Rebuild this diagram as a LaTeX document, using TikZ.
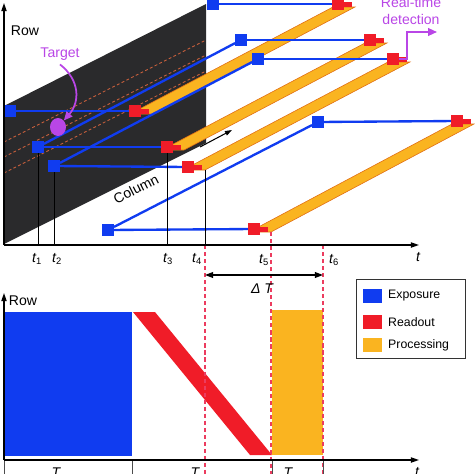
\documentclass[tikz,border=0pt]{standalone}
\usepackage{fontspec}
\setmainfont{Liberation Sans}
\usetikzlibrary{arrows.meta,shapes.geometric,calc}
\definecolor{cblue}{RGB}{16,60,240}
\definecolor{cred}{RGB}{240,28,40}
\definecolor{corange}{RGB}{250,180,32}
\definecolor{cobord}{RGB}{225,110,20}
\definecolor{cdark}{RGB}{42,42,44}
\definecolor{cpurple}{RGB}{185,70,230}
\definecolor{cdash}{RGB}{236,60,95}
\definecolor{cinner}{RGB}{200,95,60}
\pgfdeclarelayer{back}
\pgfdeclarelayer{bars}
\pgfdeclarelayer{lines}
\pgfsetlayers{back,bars,lines,main}
\begin{document}
\begin{tikzpicture}[x=0.03cm,y=-0.03cm, font=\fontsize{12}{14}\selectfont,
  bsq/.style={fill=cblue, minimum size=0.36cm, inner sep=0pt, outer sep=0pt},
  rsq/.style={fill=cred, minimum size=0.36cm, inner sep=0pt, outer sep=0pt},
  bline/.style={draw=cblue, line width=2pt},
  bar/.style={fill=corange, draw=cobord, line width=0.5pt},
  axis/.style={draw=black, line width=1.1pt, -{Triangle[length=7pt,width=4.5pt]}},
  tline/.style={draw=black, line width=0.7pt},
  rdash/.style={draw=cdash, line width=0.9pt, dash pattern=on 3.5pt off 2.5pt},
  innerdash/.style={draw=cinner, line width=0.75pt, dash pattern=on 2.5pt off 2pt},
  tlab/.style={font=\fontsize{12}{14}\selectfont\itshape, inner sep=0pt},
  leg/.style={font=\fontsize{10.5}{12}\selectfont, anchor=west, inner sep=0pt},
  sw/.style={minimum width=0.57cm, minimum height=0.42cm, inner sep=0pt},
  parr/.style={draw=cpurple, line width=1.5pt, -{Triangle[length=7.5pt,width=6.5pt]}},
]
\useasboundingbox (0,0) rectangle (474,474);

% axes reference coordinates
\coordinate (O1) at (4,245);
\coordinate (Y1) at (4,3);
\coordinate (X1) at (419,245);
\coordinate (O2) at (4,460);
\coordinate (Y2) at (4,293);
\coordinate (X2) at (419,460);
\coordinate (bot) at (4,476);

% dark sensor region
\begin{pgfonlayer}{back}
\fill[cdark] (4,106) -- (206,4) -- (206,143) -- (4,244) -- cycle;
\draw[innerdash] (4,142) -- (206,40);
\draw[innerdash] (4,157) -- (206,55);
\draw[innerdash] (4,173) -- (206,71);
\end{pgfonlayer}

% squares
\node[bsq] (A1) at (10,111) {};
\node[rsq] (B1) at (135,111) {};
\node[bsq] (C1) at (213,4) {};
\node[rsq] (D1) at (338,4) {};
\node[bsq] (A2) at (38,147) {};
\node[rsq] (B2) at (167,147) {};
\node[bsq] (C2) at (241,40) {};
\node[rsq] (D2) at (370,40) {};
\node[bsq] (A3) at (54,166) {};
\node[rsq] (B3) at (188,167) {};
\node[bsq] (C3) at (258,59) {};
\node[rsq] (D3) at (393,59) {};
\node[bsq] (A4) at (108,230) {};
\node[rsq] (B4) at (254,229) {};
\node[bsq] (C4) at (318,122) {};
\node[rsq] (D4) at (457,121) {};

\foreach \n in {B1,D1,B2,D2,B3,D3,B4,D4}
  \fill[cred] ($(\n)+(5,-2)$) rectangle ($(\n)+(14,3)$);

% processing bars
\begin{pgfonlayer}{bars}
\foreach \b/\d in {B1/D1,B2/D2,B3/D3,B4/D4}
  \filldraw[bar] ($(\b)+(-5,3)$) -- ($(\b)+(17,3)$) -- ($(\d)+(17,3)$) -- ($(\d)+(-5,3)$) -- cycle;
\end{pgfonlayer}

% exposure lines
\begin{pgfonlayer}{lines}
\draw[bline] (A1) -- (B1);
\draw[bline] (C1) -- (D1);
\draw[bline] (A2) -- (B2);
\draw[bline] (A2) -- (C2);
\draw[bline] (C2) -- (D2);
\draw[bline] (A3) -- (B3);
\draw[bline] (A3) -- (C3);
\draw[bline] (C3) -- (D3);
\draw[bline] (A4) -- (B4);
\draw[bline] (A4) -- (C4);
\draw[bline] (C4) -- (D4);
\end{pgfonlayer}

% bottom panel shapes
\fill[cblue] (4,312) rectangle (132,456);
\fill[cred] (133,312) -- (155,312) -- (272,455) -- (250,455) -- cycle;
\fill[corange] (272,310) rectangle (323,455);

% time markers
\coordinate (t4top) at ($(B3)+(17,3)$);
\coordinate (t5top) at ($(B4)+(17,3)$);
\coordinate (t6top) at (323,245);
\draw[tline] (A2.south) -- (A2.south |- O1);
\draw[tline] (A3.south) -- (A3.south |- O1);
\draw[tline] (B2.south) -- (B2.south |- O1);
\draw[tline] (t4top) -- (t4top |- O1);
\draw[rdash] (t4top |- O1) -- (t4top |- bot);
\draw[rdash] (t5top) -- (t5top |- bot);
\draw[rdash] (t6top) -- (t6top |- bot);

% ticks below bottom axis
\coordinate (k1) at (132,460);
\coordinate (k2) at (272,460);
\coordinate (k3) at (323,460);
\draw[tline, black!70] (O2) -- (O2 |- bot);
\draw[tline, black!70] (k1) -- (k1 |- bot);
\draw[tline, black!70] (k2) -- (k2 |- bot);
\draw[tline, black!70] (k3) -- (k3 |- bot);

% axes
\draw[axis] (O1) -- (X1);
\draw[axis] (O1) -- (Y1);
\draw[axis] (O2) -- (X2);
\draw[axis] (O2) -- (Y2);

% column arrow
\coordinate (colS) at (200,147);
\coordinate (colE) at (232,130);
\draw[line width=0.9pt, -{Triangle[length=6pt,width=4pt]}] (colS) -- (colE);
\node[rotate=27] (colL) at (136,189) {Column};

% delta T
\coordinate (dTa) at (205,275);
\coordinate (dTb) at (323,275);
\draw[line width=1.1pt, {Triangle[length=7pt,width=5pt]}-{Triangle[length=7pt,width=5pt]}] (dTa) -- (dTb);
\node[tlab] (dTl) at (262,289) {Δ T};

% target
\node[ellipse, fill=cpurple, minimum width=0.48cm, minimum height=0.54cm, inner sep=0pt] (tgt) at (58,127) {};
\node[text=cpurple] (tgtl) at (60,54) {Target};
\draw[parr] (tgtl.south) .. controls (80,80) and (80,102) .. (tgt.north east);

% real-time detection
\node[text=cpurple, anchor=base] (rt1) at (411,7) {Real-time};
\node[text=cpurple, anchor=base] (rt2) at (411,24) {detection};
\coordinate (rtend) at (437,32);
\draw[parr] (D3.east) -- ($(D3)+(14,0)$) |- (rtend);

% labels
\node (row1) at (25,31) {Row};
\node (row2) at (23,301) {Row};
\node[tlab] (lt1) at (37,259) {t\textsubscript{\upshape 1}};
\node[tlab] (lt2) at (57,259) {t\textsubscript{\upshape 2}};
\node[tlab] (lt3) at (168,259) {t\textsubscript{\upshape 3}};
\node[tlab] (lt4) at (197,259) {t\textsubscript{\upshape 4}};
\node[tlab] (lt5) at (264,260) {t\textsubscript{\upshape 5}};
\node[tlab] (lt6) at (334,260) {t\textsubscript{\upshape 6}};
\node[tlab] (lt) at (418,257) {t};
\node[tlab] (ltb) at (417,472) {t};
\node[tlab] (T1) at (56,473) {T};
\node[tlab] (T2) at (195,473) {T};
\node[tlab] (T3) at (288,473) {T};

% legend
\node[draw=black!80, line width=0.7pt, minimum width=3.27cm, minimum height=2.37cm, inner sep=0pt] (legbox) at (410.5,318.5) {};
\node[sw, fill=cblue] (swE) at (372.5,296) {};
\node[sw, fill=cred] (swR) at (372.5,322) {};
\node[sw, fill=corange] (swP) at (372.5,345) {};
\node[leg] (lE) at (388,296) {Exposure};
\node[leg] (lR) at (388,322) {Readout};
\node[leg] (lP) at (388,345) {Processing};
\end{tikzpicture}
\end{document}
